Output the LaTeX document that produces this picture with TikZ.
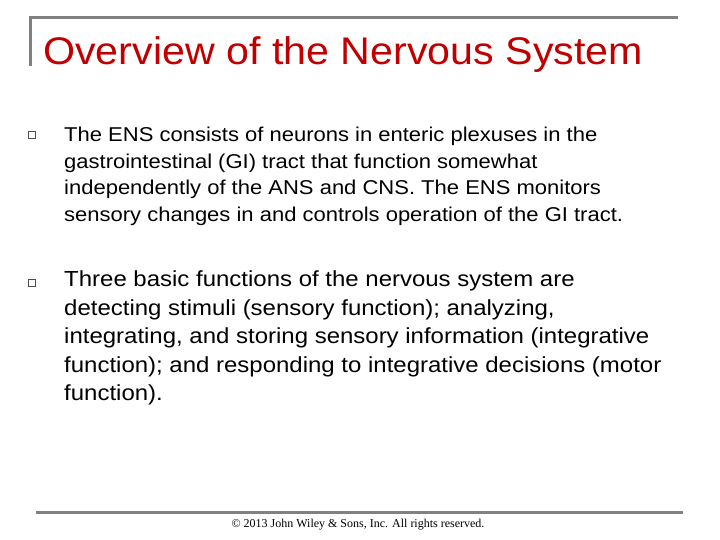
\documentclass[tikz,border=0pt]{standalone}
\usepackage{fontspec}
\setmainfont{Liberation Sans}
\newfontfamily\widesans[FakeStretch=1.1]{Liberation Sans}
\newfontfamily\titlesans[FakeStretch=1.07]{Liberation Sans}
\newfontfamily\serifft{Liberation Serif}
\definecolor{titlered}{HTML}{C00000}
\definecolor{rulegray}{HTML}{808080}
\begin{document}
\begin{tikzpicture}[x=1pt,y=-1pt,
  body/.style={anchor=north west,inner sep=0pt,align=left},
  bul/.style={draw=black!70,line width=0.6pt,minimum size=6.5pt,inner sep=0pt}]
\useasboundingbox (0,0) rectangle (720,540);
\coordinate (tl) at (30,18);
\coordinate (tr) at (678,18);
\coordinate (bl) at (30,66);
\draw[rulegray,line width=3pt] (tr) -- (tl) -- (bl);
\node[anchor=base west,inner sep=0pt,text=titlered,font=\titlesans\fontsize{38.5}{40}\selectfont] (title) at (43,65) {Overview of the Nervous System};
\node[bul] (b1) at (32,135) {};
\node[body,font=\widesans\fontsize{20}{26.5}\selectfont] (p1) at (64,127) {The ENS consists of neurons in enteric plexuses in the\\gastrointestinal (GI) tract that function somewhat\\independently of the ANS and CNS. The ENS monitors\\sensory changes in and controls operation of the GI tract.};
\node[bul] (b2) at (32,283) {};
\node[body,font=\widesans\fontsize{21.8}{28.5}\selectfont] (p2) at (64,271) {Three basic functions of the nervous system are\\detecting stimuli (sensory function); analyzing,\\integrating, and storing sensory information (integrative\\function); and responding to integrative decisions (motor\\function).};
\coordinate (fl) at (36,512);
\coordinate (fr) at (683,512);
\draw[rulegray,line width=3pt] (fl) -- (fr);
\node[inner sep=0pt,font=\serifft\fontsize{12}{14}\selectfont] (foot) at (358,525) {© 2013 John Wiley \& Sons, Inc. All rights reserved.};
\end{tikzpicture}
\end{document}
